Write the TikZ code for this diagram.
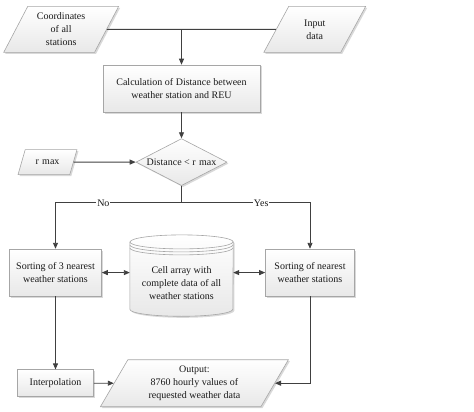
\documentclass[tikz,border=0pt]{standalone}
\usepackage{fontspec}
\setmainfont{Liberation Serif}
\usetikzlibrary{arrows.meta,positioning,shapes,shadows,backgrounds}

\begin{document}
\begin{tikzpicture}[
    node distance=0.8cm and 1.2cm,
    font=\fontsize{10}{13}\selectfont,
    box/.style={rectangle, draw=gray!70, line width=0.6pt, top color=white, bottom color=gray!18, text=black!90,
        drop shadow={shadow xshift=1.5pt, shadow yshift=-1.5pt, fill=gray!50, opacity=0.6},
        minimum height=47pt, inner sep=2pt, align=center},
    io/.style={box, trapezium, trapezium left angle=63, trapezium right angle=117, trapezium stretches=true},
    decision/.style={box, diamond, aspect=2, inner sep=0pt, minimum width=91pt},
    dbshape/.style={draw=gray!70, line width=0.6pt, top color=white, bottom color=gray!18,
        drop shadow={shadow xshift=1.5pt, shadow yshift=-1.5pt, fill=gray!50, opacity=0.6}},
    arrow/.style={-{Triangle[length=6pt, width=5pt]}, line width=0.9pt, black!75},
    darrow/.style={arrow, {Triangle[length=6pt, width=5pt]}-{Triangle[length=6pt, width=5pt]}},
    link/.style={line width=0.9pt, black!75},
    answer/.style={fill=white, inner sep=1pt, text=black!90}
]
    \useasboundingbox (0,0) rectangle (474pt,-412pt);

    % Calculation (top center)
    \node[box, minimum width=157pt] (calc) at (181.5pt,-88.5pt) {Calculation of Distance between\\weather station and REU};

    % Inputs (top row)
    \node[io, minimum width=115pt, minimum height=46pt, anchor=bottom right corner] (coords) at ([xshift=-8pt, yshift=12pt]calc.north west) {Coordinates\\of all\\stations};
    \node[io, minimum width=102pt, minimum height=46pt, anchor=bottom left corner] (input) at ([xshift=3pt, yshift=12pt]calc.north east) {Input\\data};

    % Decision with r max
    \node[decision, below=26pt of calc] (dist) {Distance < r\,\,max};
    \node[io, minimum width=59pt, minimum height=25pt, left=62pt of dist] (rmax) {r\,\,max};

    % Database (center) and sorting on both sides
    \node[rectangle, minimum width=103pt, minimum height=67pt, align=center, text=black!90, below=63pt of dist] (cells) {Cell array with\\complete data of all\\weather stations};
    \node[box, minimum width=92pt, left=28pt of cells, yshift=10pt] (lsort) {Sorting of 3 nearest\\weather stations};
    \node[box, minimum width=89pt, right=32pt of cells, yshift=10pt] (rsort) {Sorting of nearest\\weather stations};

    % Bottom row
    \node[box, minimum width=76pt, minimum height=27pt, below=73pt of lsort] (interp) {Interpolation};
    \node[io, minimum width=188pt, minimum height=47pt, right=20pt of interp] (output) {Output:\\8760 hourly values of\\requested weather data};

    % Cylinder outline behind the text
    \begin{scope}[on background layer]
        \draw[dbshape] ([yshift=7pt]cells.north west) -- ([yshift=7pt]cells.south west)
            arc[start angle=180, end angle=360, x radius=51.5pt, y radius=7pt]
            -- ([yshift=7pt]cells.north east)
            arc[start angle=0, end angle=180, x radius=51.5pt, y radius=7pt] -- cycle;
        \foreach \s in {7,4,1}
            \draw[gray!70, line width=0.6pt] ([yshift=\s pt]cells.north west) arc[start angle=180, end angle=360, x radius=51.5pt, y radius=7pt];
    \end{scope}

    % Input arrows
    \draw[link] (coords.east) -- (input.west);
    \draw[arrow] (calc |- coords.east) -- (calc);
    \draw[arrow] (calc) -- (dist);
    \draw[arrow] (rmax) -- (dist);

    % Branches
    \draw[arrow] (dist.south) -- ++(0,-17pt) -| node[answer, pos=0.31] {No} (lsort);
    \draw[arrow] (dist.south) -- ++(0,-17pt) -| node[answer, pos=0.31] {Yes} (rsort);

    % Data exchange
    \draw[darrow] (lsort) -- (lsort -| cells.west);
    \draw[darrow] (rsort) -- (rsort -| cells.east);

    % Output arrows
    \draw[arrow] (lsort) -- (interp);
    \draw[arrow] (interp) -- (output);
    \draw[arrow] (rsort) |- (output.east);

\end{tikzpicture}
\end{document}
